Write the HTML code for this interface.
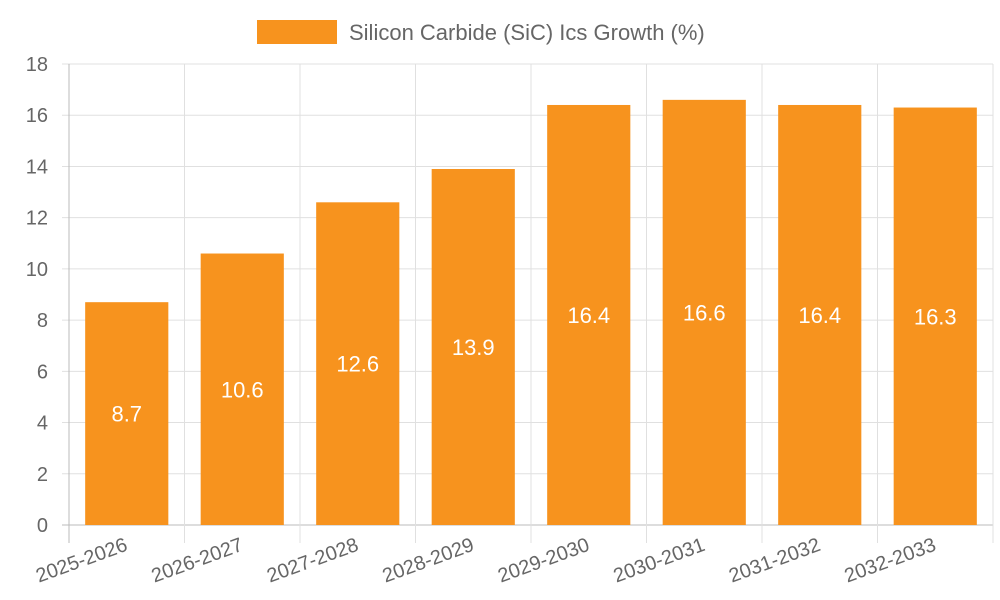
<!DOCTYPE html>
<html><head><meta charset="utf-8"><style>
body{margin:0;background:#fff;}
svg{display:block;font-family:"Liberation Sans",sans-serif;}
</style></head><body>
<svg id="chart" width="1000" height="600">
<g>
<rect x="257" y="20" width="80" height="24" fill="#f7931e"/>
<text x="349" y="40" font-size="22" fill="#666">Silicon Carbide (SiC) Ics Growth (%)</text>
</g>
<g id="grid"></g><g id="bars"></g><g id="labels"></g>
</svg>
<script>
const categories=["2025-2026","2026-2027","2027-2028","2028-2029","2029-2030","2030-2031","2031-2032","2032-2033"];
const values=[8.7,10.6,12.6,13.9,16.4,16.6,16.4,16.3];
const yTicks=[0,2,4,6,8,10,12,14,16,18];
const NS="http://www.w3.org/2000/svg";
const L=69,R=993,T=64,B=525,yMax=18;
const y=v=>B-(v/yMax)*(B-T);
const cw=(R-L)/categories.length;
const x=i=>L+cw*i;
const grid=document.getElementById('grid'),bars=document.getElementById('bars'),labs=document.getElementById('labels');
function mk(tag,attrs,parent){const e=document.createElementNS(NS,tag);for(const k in attrs)e.setAttribute(k,attrs[k]);parent.appendChild(e);return e;}
yTicks.forEach(t=>{
  const g=mk('line',{x1:L-7,x2:R,y1:y(t),y2:y(t),stroke:t===0?'#bbb':'#e0e0e0','stroke-width':1},grid);
  
  
  const tx=mk('text',{x:48,y:y(t)+7,'text-anchor':'end','font-size':20,fill:'#666'},grid);
  tx.textContent=t;
  
  
});
for(let i=0;i<=categories.length;i++){
  const g=mk('line',{x1:x(i),x2:x(i),y1:T,y2:B+18,stroke:i===0?'#bbb':'#e0e0e0','stroke-width':1},grid);
  
  
}
categories.forEach((c,i)=>{
  const bw=cw*0.72,cx=x(i)+cw/2;
  const r=mk('rect',{x:cx-bw/2,y:y(values[i]),width:bw,height:B-y(values[i]),fill:'#f7931e'},bars);
  
  
  const v=mk('text',{x:cx,y:(y(values[i])+B)/2+8,'text-anchor':'middle','font-size':22,fill:'#fff'},labs);
  v.textContent=values[i];
  
  
  const t=mk('text',{x:cx+2,y:550,'text-anchor':'end','font-size':20,fill:'#666',transform:`rotate(-20 ${cx+2} 550)`},labs);
  t.textContent=c;
  
  
});
</script>
</body></html>
